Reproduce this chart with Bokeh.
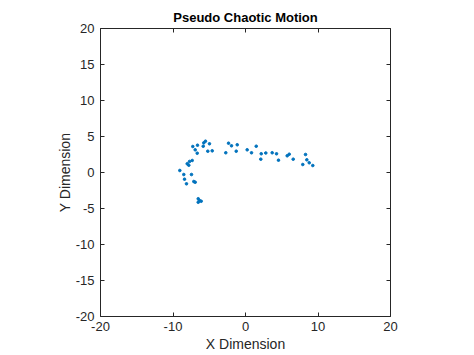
from bokeh.plotting import figure
from bokeh.models import Range1d, LinearAxis, FixedTicker, CustomJSTickFormatter
from bokeh.embed import file_html
from bokeh.resources import INLINE

x_vals = [-5.52, -5.75, -4.97, -7.27, -6.62, -5.83, -6.94, -5.2, -4.59, -6.66,
          -2.34, -1.93, -1.14, -2.72, -1.28, 0.23, 0.83, 1.48, 2.17, 2.11,
          2.8, 3.68, 4.28, 4.55, 5.75, 6.03, 6.58, 8.28, 8.46, 8.79,
          7.9, 9.28, -7.35, -7.72, -8.04, -7.82, -9.06, -8.51, -7.45, -8.41,
          -7.13, -6.94, -8.14, -6.52, -6.34, -6.11, -6.52]
y_vals = [4.35, 4.12, 3.99, 3.61, 3.79, 3.65, 3.15, 2.96, 3.01, 2.68,
          4.07, 3.71, 3.85, 2.74, 2.96, 3.15, 2.74, 3.65, 2.6, 1.85,
          2.71, 2.74, 2.6, 1.71, 2.32, 2.54, 1.85, 2.5, 1.76, 1.35,
          1.11, 0.97, 1.67, 1.53, 1.21, 1.01, 0.28, -0.28, -0.28, -0.93,
          -1.25, -1.35, -1.57, -3.65, -3.89, -3.99, -4.13]
x_ticks = [-20, -10, 0, 10, 20]
y_ticks = [-20, -15, -10, -5, 0, 5, 10, 15, 20]

FONT = "Liberation Sans"
AX = "#262626"

p = figure(width=474, height=355, output_backend="svg", toolbar_location=None,
           x_range=Range1d(-20, 20), y_range=Range1d(-20, 20),
           min_border_left=100, min_border_right=84, min_border_top=28,
           min_border_bottom=39, title="Pseudo Chaotic Motion")
p.title.text_font = FONT
p.title.text_font_size = "13px"
p.title.text_font_style = "bold"
p.title.align = "center"
p.title.vertical_align = "top"
p.title.text_color = "#000000"
p.title.offset = 0
p.title.standoff = 4

p.scatter(x_vals, y_vals, size=2.6, color="#0072BD", line_color="#0072BD")

p.grid.visible = False
p.outline_line_color = None
p.background_fill_color = "white"
p.border_fill_color = "white"

fmt = CustomJSTickFormatter(code="return tick.toString();")
for ax in [p.xaxis[0], p.yaxis[0]]:
    ax.major_tick_in = 4
    ax.major_tick_out = 0
    ax.minor_tick_line_color = None
    ax.axis_line_color = AX
    ax.major_tick_line_color = AX
    ax.major_label_text_font = FONT
    ax.major_label_text_font_size = "13px"
    ax.major_label_text_color = AX
    ax.axis_label_text_font = FONT
    ax.axis_label_text_font_size = "14px"
    ax.axis_label_text_font_style = "normal"
    ax.axis_label_text_color = AX
    ax.formatter = fmt
p.xaxis[0].ticker = FixedTicker(ticks=x_ticks)
p.yaxis[0].ticker = FixedTicker(ticks=y_ticks)
p.xaxis[0].axis_label = "X Dimension"
p.yaxis[0].axis_label = "Y Dimension"
p.xaxis[0].major_label_standoff = 5
p.yaxis[0].major_label_standoff = 6
p.xaxis[0].axis_label_standoff = 2
p.yaxis[0].axis_label_standoff = 0

empty = CustomJSTickFormatter(code="return '';")
top = LinearAxis(ticker=FixedTicker(ticks=x_ticks), formatter=empty,
                 major_tick_in=4, major_tick_out=0, minor_tick_line_color=None,
                 axis_line_color=AX, major_tick_line_color=AX, major_label_standoff=0)
right = LinearAxis(ticker=FixedTicker(ticks=y_ticks), formatter=empty,
                   major_tick_in=4, major_tick_out=0, minor_tick_line_color=None,
                   axis_line_color=AX, major_tick_line_color=AX, major_label_standoff=0)
p.add_layout(top, "above")
p.add_layout(right, "right")

open("out.html", "w").write(file_html(p, INLINE))
